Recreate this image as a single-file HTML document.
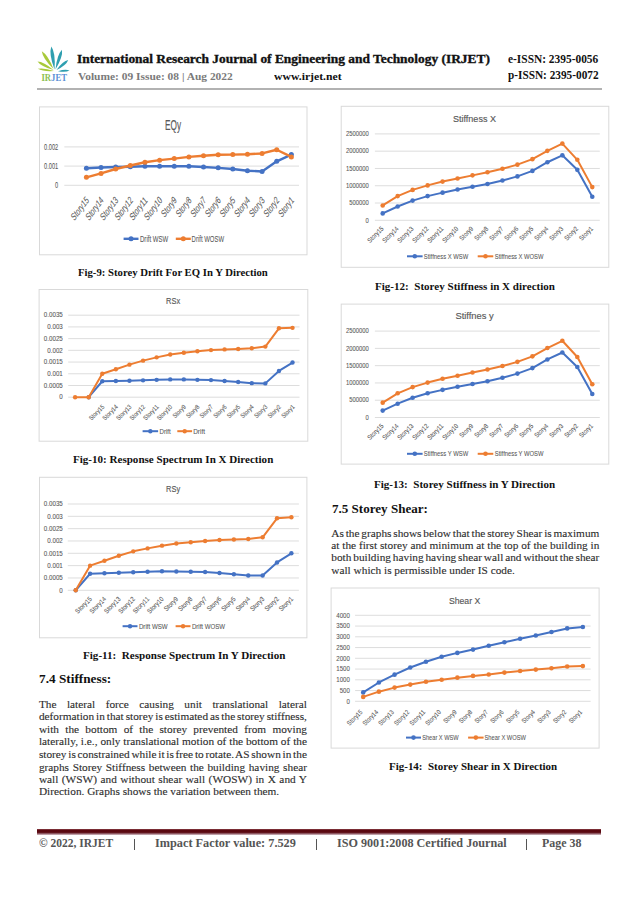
<!DOCTYPE html>
<html><head><meta charset="utf-8"><style>
html,body{margin:0;padding:0;background:#fff;}
body{width:638px;height:902px;position:relative;overflow:hidden;}
.t{position:absolute;white-space:pre;font-family:"Liberation Serif",serif;transform-origin:0 0;}
.b{-webkit-text-stroke:0px currentColor;}
.r{-webkit-text-stroke:0.12px currentColor;}
.j{text-align:justify;text-align-last:justify;white-space:normal;}
svg text{font-family:"Liberation Sans",sans-serif;stroke:#595959;stroke-width:0.08px;}
svg text.tt{stroke-width:0.15px;}
svg text.lg{font-family:"Liberation Serif",serif;stroke:none;}
</style></head><body>
<div style="position:absolute;left:37px;top:88px;width:565px;height:2px;background:#b2b2b2"></div>
<div style="position:absolute;left:37px;top:829px;width:564px;height:5.5px;background:linear-gradient(#8a4048,#5a0810 25%,#5a0810 55%,#9a6a74 80%,#d8c4ca)"></div>
<svg style="position:absolute;left:0;top:0" width="638" height="902" viewBox="0 0 638 902">
<rect x="39.50" y="106.90" width="267.50" height="147.90" fill="#fff" stroke="#D9D9D9" stroke-width="1"/><text x="165.00" y="129.60" font-size="13.95" fill="#595959" text-anchor="start" textLength="16.00" lengthAdjust="spacingAndGlyphs" class="tt">EQy</text><line x1="64.3" y1="185.30" x2="299" y2="185.30" stroke="#D9D9D9" stroke-width="0.9"/><text x="58.20" y="188.10" font-size="8.14" fill="#595959" text-anchor="end" textLength="3.14" lengthAdjust="spacingAndGlyphs" >0</text><line x1="64.3" y1="166.10" x2="299" y2="166.10" stroke="#D9D9D9" stroke-width="0.9"/><text x="58.20" y="168.90" font-size="8.14" fill="#595959" text-anchor="end" textLength="14.14" lengthAdjust="spacingAndGlyphs" >0.001</text><line x1="64.3" y1="146.90" x2="299" y2="146.90" stroke="#D9D9D9" stroke-width="0.9"/><text x="58.20" y="149.70" font-size="8.14" fill="#595959" text-anchor="end" textLength="14.14" lengthAdjust="spacingAndGlyphs" >0.002</text><polyline points="86.40,168.31 101.04,167.44 115.68,167.06 130.32,166.68 144.96,166.29 159.60,166.29 174.24,166.29 188.88,166.29 203.52,167.06 218.16,167.83 232.80,168.98 247.44,170.71 262.08,171.48 276.72,161.30 291.36,154.58" fill="none" stroke="#4472C4" stroke-width="2.4" stroke-linejoin="round" stroke-linecap="round"/><circle cx="86.40" cy="168.31" r="2.5" fill="#4472C4"/><circle cx="101.04" cy="167.44" r="2.5" fill="#4472C4"/><circle cx="115.68" cy="167.06" r="2.5" fill="#4472C4"/><circle cx="130.32" cy="166.68" r="2.5" fill="#4472C4"/><circle cx="144.96" cy="166.29" r="2.5" fill="#4472C4"/><circle cx="159.60" cy="166.29" r="2.5" fill="#4472C4"/><circle cx="174.24" cy="166.29" r="2.5" fill="#4472C4"/><circle cx="188.88" cy="166.29" r="2.5" fill="#4472C4"/><circle cx="203.52" cy="167.06" r="2.5" fill="#4472C4"/><circle cx="218.16" cy="167.83" r="2.5" fill="#4472C4"/><circle cx="232.80" cy="168.98" r="2.5" fill="#4472C4"/><circle cx="247.44" cy="170.71" r="2.5" fill="#4472C4"/><circle cx="262.08" cy="171.48" r="2.5" fill="#4472C4"/><circle cx="276.72" cy="161.30" r="2.5" fill="#4472C4"/><circle cx="291.36" cy="154.58" r="2.5" fill="#4472C4"/><polyline points="86.40,177.29 101.04,173.40 115.68,168.98 130.32,165.52 144.96,162.26 159.60,160.15 174.24,158.61 188.88,156.88 203.52,155.73 218.16,154.77 232.80,154.58 247.44,154.20 262.08,153.43 276.72,149.78 291.36,156.88" fill="none" stroke="#ED7D31" stroke-width="2.4" stroke-linejoin="round" stroke-linecap="round"/><circle cx="86.40" cy="177.29" r="2.5" fill="#ED7D31"/><circle cx="101.04" cy="173.40" r="2.5" fill="#ED7D31"/><circle cx="115.68" cy="168.98" r="2.5" fill="#ED7D31"/><circle cx="130.32" cy="165.52" r="2.5" fill="#ED7D31"/><circle cx="144.96" cy="162.26" r="2.5" fill="#ED7D31"/><circle cx="159.60" cy="160.15" r="2.5" fill="#ED7D31"/><circle cx="174.24" cy="158.61" r="2.5" fill="#ED7D31"/><circle cx="188.88" cy="156.88" r="2.5" fill="#ED7D31"/><circle cx="203.52" cy="155.73" r="2.5" fill="#ED7D31"/><circle cx="218.16" cy="154.77" r="2.5" fill="#ED7D31"/><circle cx="232.80" cy="154.58" r="2.5" fill="#ED7D31"/><circle cx="247.44" cy="154.20" r="2.5" fill="#ED7D31"/><circle cx="262.08" cy="153.43" r="2.5" fill="#ED7D31"/><circle cx="276.72" cy="149.78" r="2.5" fill="#ED7D31"/><circle cx="291.36" cy="156.88" r="2.5" fill="#ED7D31"/><g transform="translate(89.40,201.10) scale(1,1.33) rotate(-45)"><text x="0" y="0" font-size="8.14" fill="#595959" text-anchor="end" textLength="21.33" lengthAdjust="spacingAndGlyphs">Story15</text></g><g transform="translate(104.04,201.10) scale(1,1.33) rotate(-45)"><text x="0" y="0" font-size="8.14" fill="#595959" text-anchor="end" textLength="21.33" lengthAdjust="spacingAndGlyphs">Story14</text></g><g transform="translate(118.68,201.10) scale(1,1.33) rotate(-45)"><text x="0" y="0" font-size="8.14" fill="#595959" text-anchor="end" textLength="21.33" lengthAdjust="spacingAndGlyphs">Story13</text></g><g transform="translate(133.32,201.10) scale(1,1.33) rotate(-45)"><text x="0" y="0" font-size="8.14" fill="#595959" text-anchor="end" textLength="21.33" lengthAdjust="spacingAndGlyphs">Story12</text></g><g transform="translate(147.96,201.10) scale(1,1.33) rotate(-45)"><text x="0" y="0" font-size="8.14" fill="#595959" text-anchor="end" textLength="21.33" lengthAdjust="spacingAndGlyphs">Story11</text></g><g transform="translate(162.60,201.10) scale(1,1.33) rotate(-45)"><text x="0" y="0" font-size="8.14" fill="#595959" text-anchor="end" textLength="21.33" lengthAdjust="spacingAndGlyphs">Story10</text></g><g transform="translate(177.24,201.10) scale(1,1.33) rotate(-45)"><text x="0" y="0" font-size="8.14" fill="#595959" text-anchor="end" textLength="17.88" lengthAdjust="spacingAndGlyphs">Story9</text></g><g transform="translate(191.88,201.10) scale(1,1.33) rotate(-45)"><text x="0" y="0" font-size="8.14" fill="#595959" text-anchor="end" textLength="17.88" lengthAdjust="spacingAndGlyphs">Story8</text></g><g transform="translate(206.52,201.10) scale(1,1.33) rotate(-45)"><text x="0" y="0" font-size="8.14" fill="#595959" text-anchor="end" textLength="17.88" lengthAdjust="spacingAndGlyphs">Story7</text></g><g transform="translate(221.16,201.10) scale(1,1.33) rotate(-45)"><text x="0" y="0" font-size="8.14" fill="#595959" text-anchor="end" textLength="17.88" lengthAdjust="spacingAndGlyphs">Story6</text></g><g transform="translate(235.80,201.10) scale(1,1.33) rotate(-45)"><text x="0" y="0" font-size="8.14" fill="#595959" text-anchor="end" textLength="17.88" lengthAdjust="spacingAndGlyphs">Story5</text></g><g transform="translate(250.44,201.10) scale(1,1.33) rotate(-45)"><text x="0" y="0" font-size="8.14" fill="#595959" text-anchor="end" textLength="17.88" lengthAdjust="spacingAndGlyphs">Story4</text></g><g transform="translate(265.08,201.10) scale(1,1.33) rotate(-45)"><text x="0" y="0" font-size="8.14" fill="#595959" text-anchor="end" textLength="17.88" lengthAdjust="spacingAndGlyphs">Story3</text></g><g transform="translate(279.72,201.10) scale(1,1.33) rotate(-45)"><text x="0" y="0" font-size="8.14" fill="#595959" text-anchor="end" textLength="17.88" lengthAdjust="spacingAndGlyphs">Story2</text></g><g transform="translate(294.36,201.10) scale(1,1.33) rotate(-45)"><text x="0" y="0" font-size="8.14" fill="#595959" text-anchor="end" textLength="17.88" lengthAdjust="spacingAndGlyphs">Story1</text></g><line x1="123.6" y1="238.8" x2="138.5" y2="238.8" stroke="#4472C4" stroke-width="2.4"/><circle cx="131.05" cy="238.8" r="2.5" fill="#4472C4"/><text x="140.00" y="242.10" font-size="9.59" fill="#595959" text-anchor="start" textLength="28.20" lengthAdjust="spacingAndGlyphs" >Drift WSW</text><line x1="175.8" y1="238.8" x2="190.8" y2="238.8" stroke="#ED7D31" stroke-width="2.4"/><circle cx="183.30" cy="238.8" r="2.5" fill="#ED7D31"/><text x="191.60" y="242.10" font-size="9.59" fill="#595959" text-anchor="start" textLength="32.50" lengthAdjust="spacingAndGlyphs" >Drift WOSW</text><rect x="39.10" y="289.50" width="268.70" height="151.70" fill="#fff" stroke="#D9D9D9" stroke-width="1"/><text x="166.10" y="304.00" font-size="9.59" fill="#595959" text-anchor="start" textLength="14.10" lengthAdjust="spacingAndGlyphs" class="tt">RSx</text><line x1="68.2" y1="397.20" x2="299.5" y2="397.20" stroke="#D9D9D9" stroke-width="0.9"/><text x="62.80" y="399.45" font-size="6.54" fill="#595959" text-anchor="end" textLength="3.45" lengthAdjust="spacingAndGlyphs" >0</text><line x1="68.2" y1="385.49" x2="299.5" y2="385.49" stroke="#D9D9D9" stroke-width="0.9"/><text x="62.80" y="387.74" font-size="6.54" fill="#595959" text-anchor="end" textLength="18.95" lengthAdjust="spacingAndGlyphs" >0.0005</text><line x1="68.2" y1="373.77" x2="299.5" y2="373.77" stroke="#D9D9D9" stroke-width="0.9"/><text x="62.80" y="376.02" font-size="6.54" fill="#595959" text-anchor="end" textLength="15.50" lengthAdjust="spacingAndGlyphs" >0.001</text><line x1="68.2" y1="362.06" x2="299.5" y2="362.06" stroke="#D9D9D9" stroke-width="0.9"/><text x="62.80" y="364.31" font-size="6.54" fill="#595959" text-anchor="end" textLength="18.95" lengthAdjust="spacingAndGlyphs" >0.0015</text><line x1="68.2" y1="350.34" x2="299.5" y2="350.34" stroke="#D9D9D9" stroke-width="0.9"/><text x="62.80" y="352.59" font-size="6.54" fill="#595959" text-anchor="end" textLength="15.50" lengthAdjust="spacingAndGlyphs" >0.002</text><line x1="68.2" y1="338.63" x2="299.5" y2="338.63" stroke="#D9D9D9" stroke-width="0.9"/><text x="62.80" y="340.88" font-size="6.54" fill="#595959" text-anchor="end" textLength="18.95" lengthAdjust="spacingAndGlyphs" >0.0025</text><line x1="68.2" y1="326.91" x2="299.5" y2="326.91" stroke="#D9D9D9" stroke-width="0.9"/><text x="62.80" y="329.16" font-size="6.54" fill="#595959" text-anchor="end" textLength="15.50" lengthAdjust="spacingAndGlyphs" >0.003</text><line x1="68.2" y1="315.20" x2="299.5" y2="315.20" stroke="#D9D9D9" stroke-width="0.9"/><text x="62.80" y="317.45" font-size="6.54" fill="#595959" text-anchor="end" textLength="18.95" lengthAdjust="spacingAndGlyphs" >0.0035</text><polyline points="88.69,397.20 102.28,381.27 115.87,381.03 129.46,380.80 143.05,380.33 156.64,379.86 170.23,379.39 183.82,379.39 197.41,379.86 211.00,380.10 224.59,381.03 238.18,381.97 251.77,383.14 265.36,383.38 278.95,370.96 292.54,362.53" fill="none" stroke="#4472C4" stroke-width="2.0" stroke-linejoin="round" stroke-linecap="round"/><circle cx="88.69" cy="397.20" r="2.2" fill="#4472C4"/><circle cx="102.28" cy="381.27" r="2.2" fill="#4472C4"/><circle cx="115.87" cy="381.03" r="2.2" fill="#4472C4"/><circle cx="129.46" cy="380.80" r="2.2" fill="#4472C4"/><circle cx="143.05" cy="380.33" r="2.2" fill="#4472C4"/><circle cx="156.64" cy="379.86" r="2.2" fill="#4472C4"/><circle cx="170.23" cy="379.39" r="2.2" fill="#4472C4"/><circle cx="183.82" cy="379.39" r="2.2" fill="#4472C4"/><circle cx="197.41" cy="379.86" r="2.2" fill="#4472C4"/><circle cx="211.00" cy="380.10" r="2.2" fill="#4472C4"/><circle cx="224.59" cy="381.03" r="2.2" fill="#4472C4"/><circle cx="238.18" cy="381.97" r="2.2" fill="#4472C4"/><circle cx="251.77" cy="383.14" r="2.2" fill="#4472C4"/><circle cx="265.36" cy="383.38" r="2.2" fill="#4472C4"/><circle cx="278.95" cy="370.96" r="2.2" fill="#4472C4"/><circle cx="292.54" cy="362.53" r="2.2" fill="#4472C4"/><polyline points="75.10,397.20 88.69,397.20 102.28,373.77 115.87,369.32 129.46,364.63 143.05,360.65 156.64,357.37 170.23,354.56 183.82,352.69 197.41,351.28 211.00,350.11 224.59,349.41 238.18,348.94 251.77,348.23 265.36,346.59 278.95,328.32 292.54,327.85" fill="none" stroke="#ED7D31" stroke-width="2.0" stroke-linejoin="round" stroke-linecap="round"/><circle cx="75.10" cy="397.20" r="2.2" fill="#ED7D31"/><circle cx="88.69" cy="397.20" r="2.2" fill="#ED7D31"/><circle cx="102.28" cy="373.77" r="2.2" fill="#ED7D31"/><circle cx="115.87" cy="369.32" r="2.2" fill="#ED7D31"/><circle cx="129.46" cy="364.63" r="2.2" fill="#ED7D31"/><circle cx="143.05" cy="360.65" r="2.2" fill="#ED7D31"/><circle cx="156.64" cy="357.37" r="2.2" fill="#ED7D31"/><circle cx="170.23" cy="354.56" r="2.2" fill="#ED7D31"/><circle cx="183.82" cy="352.69" r="2.2" fill="#ED7D31"/><circle cx="197.41" cy="351.28" r="2.2" fill="#ED7D31"/><circle cx="211.00" cy="350.11" r="2.2" fill="#ED7D31"/><circle cx="224.59" cy="349.41" r="2.2" fill="#ED7D31"/><circle cx="238.18" cy="348.94" r="2.2" fill="#ED7D31"/><circle cx="251.77" cy="348.23" r="2.2" fill="#ED7D31"/><circle cx="265.36" cy="346.59" r="2.2" fill="#ED7D31"/><circle cx="278.95" cy="328.32" r="2.2" fill="#ED7D31"/><circle cx="292.54" cy="327.85" r="2.2" fill="#ED7D31"/><g transform="translate(104.78,407.40) scale(1,1.0) rotate(-45)"><text x="0" y="0" font-size="6.54" fill="#595959" text-anchor="end" textLength="18.82" lengthAdjust="spacingAndGlyphs">Story15</text></g><g transform="translate(118.37,407.40) scale(1,1.0) rotate(-45)"><text x="0" y="0" font-size="6.54" fill="#595959" text-anchor="end" textLength="18.82" lengthAdjust="spacingAndGlyphs">Story14</text></g><g transform="translate(131.96,407.40) scale(1,1.0) rotate(-45)"><text x="0" y="0" font-size="6.54" fill="#595959" text-anchor="end" textLength="18.82" lengthAdjust="spacingAndGlyphs">Story13</text></g><g transform="translate(145.55,407.40) scale(1,1.0) rotate(-45)"><text x="0" y="0" font-size="6.54" fill="#595959" text-anchor="end" textLength="18.82" lengthAdjust="spacingAndGlyphs">Story12</text></g><g transform="translate(159.14,407.40) scale(1,1.0) rotate(-45)"><text x="0" y="0" font-size="6.54" fill="#595959" text-anchor="end" textLength="18.82" lengthAdjust="spacingAndGlyphs">Story11</text></g><g transform="translate(172.73,407.40) scale(1,1.0) rotate(-45)"><text x="0" y="0" font-size="6.54" fill="#595959" text-anchor="end" textLength="18.82" lengthAdjust="spacingAndGlyphs">Story10</text></g><g transform="translate(186.32,407.40) scale(1,1.0) rotate(-45)"><text x="0" y="0" font-size="6.54" fill="#595959" text-anchor="end" textLength="15.78" lengthAdjust="spacingAndGlyphs">Story9</text></g><g transform="translate(199.91,407.40) scale(1,1.0) rotate(-45)"><text x="0" y="0" font-size="6.54" fill="#595959" text-anchor="end" textLength="15.78" lengthAdjust="spacingAndGlyphs">Story8</text></g><g transform="translate(213.50,407.40) scale(1,1.0) rotate(-45)"><text x="0" y="0" font-size="6.54" fill="#595959" text-anchor="end" textLength="15.78" lengthAdjust="spacingAndGlyphs">Story7</text></g><g transform="translate(227.09,407.40) scale(1,1.0) rotate(-45)"><text x="0" y="0" font-size="6.54" fill="#595959" text-anchor="end" textLength="15.78" lengthAdjust="spacingAndGlyphs">Story6</text></g><g transform="translate(240.68,407.40) scale(1,1.0) rotate(-45)"><text x="0" y="0" font-size="6.54" fill="#595959" text-anchor="end" textLength="15.78" lengthAdjust="spacingAndGlyphs">Story5</text></g><g transform="translate(254.27,407.40) scale(1,1.0) rotate(-45)"><text x="0" y="0" font-size="6.54" fill="#595959" text-anchor="end" textLength="15.78" lengthAdjust="spacingAndGlyphs">Story4</text></g><g transform="translate(267.86,407.40) scale(1,1.0) rotate(-45)"><text x="0" y="0" font-size="6.54" fill="#595959" text-anchor="end" textLength="15.78" lengthAdjust="spacingAndGlyphs">Story3</text></g><g transform="translate(281.45,407.40) scale(1,1.0) rotate(-45)"><text x="0" y="0" font-size="6.54" fill="#595959" text-anchor="end" textLength="15.78" lengthAdjust="spacingAndGlyphs">Story2</text></g><g transform="translate(295.04,407.40) scale(1,1.0) rotate(-45)"><text x="0" y="0" font-size="6.54" fill="#595959" text-anchor="end" textLength="15.78" lengthAdjust="spacingAndGlyphs">Story1</text></g><line x1="142.6" y1="431.2" x2="158.1" y2="431.2" stroke="#4472C4" stroke-width="2.0"/><circle cx="150.35" cy="431.2" r="2.2" fill="#4472C4"/><text x="159.50" y="433.70" font-size="7.27" fill="#595959" text-anchor="start" textLength="11.20" lengthAdjust="spacingAndGlyphs" >Drift</text><line x1="177.3" y1="431.2" x2="192.1" y2="431.2" stroke="#ED7D31" stroke-width="2.0"/><circle cx="184.70" cy="431.2" r="2.2" fill="#ED7D31"/><text x="193.20" y="433.70" font-size="7.27" fill="#595959" text-anchor="start" textLength="11.80" lengthAdjust="spacingAndGlyphs" >Drift</text><rect x="39.50" y="477.30" width="267.40" height="160.50" fill="#fff" stroke="#D9D9D9" stroke-width="1"/><text x="166.10" y="492.10" font-size="9.16" fill="#595959" text-anchor="start" textLength="14.10" lengthAdjust="spacingAndGlyphs" class="tt">RSy</text><line x1="67.8" y1="590.30" x2="298.9" y2="590.30" stroke="#D9D9D9" stroke-width="0.9"/><text x="62.80" y="592.55" font-size="6.54" fill="#595959" text-anchor="end" textLength="3.45" lengthAdjust="spacingAndGlyphs" >0</text><line x1="67.8" y1="577.97" x2="298.9" y2="577.97" stroke="#D9D9D9" stroke-width="0.9"/><text x="62.80" y="580.22" font-size="6.54" fill="#595959" text-anchor="end" textLength="18.95" lengthAdjust="spacingAndGlyphs" >0.0005</text><line x1="67.8" y1="565.64" x2="298.9" y2="565.64" stroke="#D9D9D9" stroke-width="0.9"/><text x="62.80" y="567.89" font-size="6.54" fill="#595959" text-anchor="end" textLength="15.50" lengthAdjust="spacingAndGlyphs" >0.001</text><line x1="67.8" y1="553.31" x2="298.9" y2="553.31" stroke="#D9D9D9" stroke-width="0.9"/><text x="62.80" y="555.56" font-size="6.54" fill="#595959" text-anchor="end" textLength="18.95" lengthAdjust="spacingAndGlyphs" >0.0015</text><line x1="67.8" y1="540.99" x2="298.9" y2="540.99" stroke="#D9D9D9" stroke-width="0.9"/><text x="62.80" y="543.24" font-size="6.54" fill="#595959" text-anchor="end" textLength="15.50" lengthAdjust="spacingAndGlyphs" >0.002</text><line x1="67.8" y1="528.66" x2="298.9" y2="528.66" stroke="#D9D9D9" stroke-width="0.9"/><text x="62.80" y="530.91" font-size="6.54" fill="#595959" text-anchor="end" textLength="18.95" lengthAdjust="spacingAndGlyphs" >0.0025</text><line x1="67.8" y1="516.33" x2="298.9" y2="516.33" stroke="#D9D9D9" stroke-width="0.9"/><text x="62.80" y="518.58" font-size="6.54" fill="#595959" text-anchor="end" textLength="15.50" lengthAdjust="spacingAndGlyphs" >0.003</text><line x1="67.8" y1="504.00" x2="298.9" y2="504.00" stroke="#D9D9D9" stroke-width="0.9"/><text x="62.80" y="506.25" font-size="6.54" fill="#595959" text-anchor="end" textLength="18.95" lengthAdjust="spacingAndGlyphs" >0.0035</text><polyline points="75.70,590.30 90.08,573.78 104.46,573.29 118.84,572.79 133.22,572.30 147.60,571.81 161.98,571.31 176.36,571.56 190.74,571.81 205.12,572.05 219.50,573.04 233.88,574.27 248.26,575.51 262.64,575.51 277.02,562.44 291.40,553.31" fill="none" stroke="#4472C4" stroke-width="2.0" stroke-linejoin="round" stroke-linecap="round"/><circle cx="75.70" cy="590.30" r="2.2" fill="#4472C4"/><circle cx="90.08" cy="573.78" r="2.2" fill="#4472C4"/><circle cx="104.46" cy="573.29" r="2.2" fill="#4472C4"/><circle cx="118.84" cy="572.79" r="2.2" fill="#4472C4"/><circle cx="133.22" cy="572.30" r="2.2" fill="#4472C4"/><circle cx="147.60" cy="571.81" r="2.2" fill="#4472C4"/><circle cx="161.98" cy="571.31" r="2.2" fill="#4472C4"/><circle cx="176.36" cy="571.56" r="2.2" fill="#4472C4"/><circle cx="190.74" cy="571.81" r="2.2" fill="#4472C4"/><circle cx="205.12" cy="572.05" r="2.2" fill="#4472C4"/><circle cx="219.50" cy="573.04" r="2.2" fill="#4472C4"/><circle cx="233.88" cy="574.27" r="2.2" fill="#4472C4"/><circle cx="248.26" cy="575.51" r="2.2" fill="#4472C4"/><circle cx="262.64" cy="575.51" r="2.2" fill="#4472C4"/><circle cx="277.02" cy="562.44" r="2.2" fill="#4472C4"/><circle cx="291.40" cy="553.31" r="2.2" fill="#4472C4"/><polyline points="75.70,590.30 90.08,565.64 104.46,560.71 118.84,555.78 133.22,551.34 147.60,548.38 161.98,545.67 176.36,543.45 190.74,542.22 205.12,540.99 219.50,540.00 233.88,539.51 248.26,539.01 262.64,537.29 277.02,518.30 291.40,517.31" fill="none" stroke="#ED7D31" stroke-width="2.0" stroke-linejoin="round" stroke-linecap="round"/><circle cx="75.70" cy="590.30" r="2.2" fill="#ED7D31"/><circle cx="90.08" cy="565.64" r="2.2" fill="#ED7D31"/><circle cx="104.46" cy="560.71" r="2.2" fill="#ED7D31"/><circle cx="118.84" cy="555.78" r="2.2" fill="#ED7D31"/><circle cx="133.22" cy="551.34" r="2.2" fill="#ED7D31"/><circle cx="147.60" cy="548.38" r="2.2" fill="#ED7D31"/><circle cx="161.98" cy="545.67" r="2.2" fill="#ED7D31"/><circle cx="176.36" cy="543.45" r="2.2" fill="#ED7D31"/><circle cx="190.74" cy="542.22" r="2.2" fill="#ED7D31"/><circle cx="205.12" cy="540.99" r="2.2" fill="#ED7D31"/><circle cx="219.50" cy="540.00" r="2.2" fill="#ED7D31"/><circle cx="233.88" cy="539.51" r="2.2" fill="#ED7D31"/><circle cx="248.26" cy="539.01" r="2.2" fill="#ED7D31"/><circle cx="262.64" cy="537.29" r="2.2" fill="#ED7D31"/><circle cx="277.02" cy="518.30" r="2.2" fill="#ED7D31"/><circle cx="291.40" cy="517.31" r="2.2" fill="#ED7D31"/><g transform="translate(92.28,599.50) scale(1,1.0) rotate(-45)"><text x="0" y="0" font-size="6.69" fill="#595959" text-anchor="end" textLength="20.39" lengthAdjust="spacingAndGlyphs">Story15</text></g><g transform="translate(106.66,599.50) scale(1,1.0) rotate(-45)"><text x="0" y="0" font-size="6.69" fill="#595959" text-anchor="end" textLength="20.39" lengthAdjust="spacingAndGlyphs">Story14</text></g><g transform="translate(121.04,599.50) scale(1,1.0) rotate(-45)"><text x="0" y="0" font-size="6.69" fill="#595959" text-anchor="end" textLength="20.39" lengthAdjust="spacingAndGlyphs">Story13</text></g><g transform="translate(135.42,599.50) scale(1,1.0) rotate(-45)"><text x="0" y="0" font-size="6.69" fill="#595959" text-anchor="end" textLength="20.39" lengthAdjust="spacingAndGlyphs">Story12</text></g><g transform="translate(149.80,599.50) scale(1,1.0) rotate(-45)"><text x="0" y="0" font-size="6.69" fill="#595959" text-anchor="end" textLength="20.39" lengthAdjust="spacingAndGlyphs">Story11</text></g><g transform="translate(164.18,599.50) scale(1,1.0) rotate(-45)"><text x="0" y="0" font-size="6.69" fill="#595959" text-anchor="end" textLength="20.39" lengthAdjust="spacingAndGlyphs">Story10</text></g><g transform="translate(178.56,599.50) scale(1,1.0) rotate(-45)"><text x="0" y="0" font-size="6.69" fill="#595959" text-anchor="end" textLength="17.09" lengthAdjust="spacingAndGlyphs">Story9</text></g><g transform="translate(192.94,599.50) scale(1,1.0) rotate(-45)"><text x="0" y="0" font-size="6.69" fill="#595959" text-anchor="end" textLength="17.09" lengthAdjust="spacingAndGlyphs">Story8</text></g><g transform="translate(207.32,599.50) scale(1,1.0) rotate(-45)"><text x="0" y="0" font-size="6.69" fill="#595959" text-anchor="end" textLength="17.09" lengthAdjust="spacingAndGlyphs">Story7</text></g><g transform="translate(221.70,599.50) scale(1,1.0) rotate(-45)"><text x="0" y="0" font-size="6.69" fill="#595959" text-anchor="end" textLength="17.09" lengthAdjust="spacingAndGlyphs">Story6</text></g><g transform="translate(236.08,599.50) scale(1,1.0) rotate(-45)"><text x="0" y="0" font-size="6.69" fill="#595959" text-anchor="end" textLength="17.09" lengthAdjust="spacingAndGlyphs">Story5</text></g><g transform="translate(250.46,599.50) scale(1,1.0) rotate(-45)"><text x="0" y="0" font-size="6.69" fill="#595959" text-anchor="end" textLength="17.09" lengthAdjust="spacingAndGlyphs">Story4</text></g><g transform="translate(264.84,599.50) scale(1,1.0) rotate(-45)"><text x="0" y="0" font-size="6.69" fill="#595959" text-anchor="end" textLength="17.09" lengthAdjust="spacingAndGlyphs">Story3</text></g><g transform="translate(279.22,599.50) scale(1,1.0) rotate(-45)"><text x="0" y="0" font-size="6.69" fill="#595959" text-anchor="end" textLength="17.09" lengthAdjust="spacingAndGlyphs">Story2</text></g><g transform="translate(293.60,599.50) scale(1,1.0) rotate(-45)"><text x="0" y="0" font-size="6.69" fill="#595959" text-anchor="end" textLength="17.09" lengthAdjust="spacingAndGlyphs">Story1</text></g><line x1="122.6" y1="626.2" x2="137.5" y2="626.2" stroke="#4472C4" stroke-width="2.0"/><circle cx="130.05" cy="626.2" r="2.2" fill="#4472C4"/><text x="138.90" y="628.70" font-size="7.27" fill="#595959" text-anchor="start" textLength="28.80" lengthAdjust="spacingAndGlyphs" >Drift WSW</text><line x1="175.6" y1="626.2" x2="190.5" y2="626.2" stroke="#ED7D31" stroke-width="2.0"/><circle cx="183.05" cy="626.2" r="2.2" fill="#ED7D31"/><text x="191.90" y="628.70" font-size="7.27" fill="#595959" text-anchor="start" textLength="33.20" lengthAdjust="spacingAndGlyphs" >Drift WOSW</text><rect x="341.20" y="106.30" width="267.60" height="161.00" fill="#fff" stroke="#D9D9D9" stroke-width="1"/><text x="452.90" y="122.00" font-size="9.16" fill="#595959" text-anchor="start" textLength="43.10" lengthAdjust="spacingAndGlyphs" class="tt">Stiffness X</text><line x1="374.9" y1="220.30" x2="599.8" y2="220.30" stroke="#D9D9D9" stroke-width="0.9"/><text x="368.80" y="222.55" font-size="6.54" fill="#595959" text-anchor="end" textLength="3.27" lengthAdjust="spacingAndGlyphs" >0</text><line x1="374.9" y1="203.02" x2="599.8" y2="203.02" stroke="#D9D9D9" stroke-width="0.9"/><text x="368.80" y="205.27" font-size="6.54" fill="#595959" text-anchor="end" textLength="19.62" lengthAdjust="spacingAndGlyphs" >500000</text><line x1="374.9" y1="185.74" x2="599.8" y2="185.74" stroke="#D9D9D9" stroke-width="0.9"/><text x="368.80" y="187.99" font-size="6.54" fill="#595959" text-anchor="end" textLength="22.89" lengthAdjust="spacingAndGlyphs" >1000000</text><line x1="374.9" y1="168.46" x2="599.8" y2="168.46" stroke="#D9D9D9" stroke-width="0.9"/><text x="368.80" y="170.71" font-size="6.54" fill="#595959" text-anchor="end" textLength="22.89" lengthAdjust="spacingAndGlyphs" >1500000</text><line x1="374.9" y1="151.18" x2="599.8" y2="151.18" stroke="#D9D9D9" stroke-width="0.9"/><text x="368.80" y="153.43" font-size="6.54" fill="#595959" text-anchor="end" textLength="22.89" lengthAdjust="spacingAndGlyphs" >2000000</text><line x1="374.9" y1="133.90" x2="599.8" y2="133.90" stroke="#D9D9D9" stroke-width="0.9"/><text x="368.80" y="136.15" font-size="6.54" fill="#595959" text-anchor="end" textLength="22.89" lengthAdjust="spacingAndGlyphs" >2500000</text><polyline points="382.70,213.39 397.67,206.48 412.64,200.60 427.61,196.11 442.58,192.65 457.55,189.54 472.52,186.78 487.49,184.01 502.46,180.56 517.43,176.41 532.40,170.88 547.37,162.24 562.34,155.33 577.31,169.84 592.28,196.80" fill="none" stroke="#4472C4" stroke-width="2.0" stroke-linejoin="round" stroke-linecap="round"/><circle cx="382.70" cy="213.39" r="2.3" fill="#4472C4"/><circle cx="397.67" cy="206.48" r="2.3" fill="#4472C4"/><circle cx="412.64" cy="200.60" r="2.3" fill="#4472C4"/><circle cx="427.61" cy="196.11" r="2.3" fill="#4472C4"/><circle cx="442.58" cy="192.65" r="2.3" fill="#4472C4"/><circle cx="457.55" cy="189.54" r="2.3" fill="#4472C4"/><circle cx="472.52" cy="186.78" r="2.3" fill="#4472C4"/><circle cx="487.49" cy="184.01" r="2.3" fill="#4472C4"/><circle cx="502.46" cy="180.56" r="2.3" fill="#4472C4"/><circle cx="517.43" cy="176.41" r="2.3" fill="#4472C4"/><circle cx="532.40" cy="170.88" r="2.3" fill="#4472C4"/><circle cx="547.37" cy="162.24" r="2.3" fill="#4472C4"/><circle cx="562.34" cy="155.33" r="2.3" fill="#4472C4"/><circle cx="577.31" cy="169.84" r="2.3" fill="#4472C4"/><circle cx="592.28" cy="196.80" r="2.3" fill="#4472C4"/><polyline points="382.70,205.44 397.67,196.11 412.64,189.89 427.61,185.39 442.58,181.59 457.55,178.48 472.52,175.37 487.49,172.26 502.46,168.81 517.43,164.66 532.40,159.13 547.37,150.83 562.34,143.58 577.31,159.82 592.28,187.12" fill="none" stroke="#ED7D31" stroke-width="2.0" stroke-linejoin="round" stroke-linecap="round"/><circle cx="382.70" cy="205.44" r="2.3" fill="#ED7D31"/><circle cx="397.67" cy="196.11" r="2.3" fill="#ED7D31"/><circle cx="412.64" cy="189.89" r="2.3" fill="#ED7D31"/><circle cx="427.61" cy="185.39" r="2.3" fill="#ED7D31"/><circle cx="442.58" cy="181.59" r="2.3" fill="#ED7D31"/><circle cx="457.55" cy="178.48" r="2.3" fill="#ED7D31"/><circle cx="472.52" cy="175.37" r="2.3" fill="#ED7D31"/><circle cx="487.49" cy="172.26" r="2.3" fill="#ED7D31"/><circle cx="502.46" cy="168.81" r="2.3" fill="#ED7D31"/><circle cx="517.43" cy="164.66" r="2.3" fill="#ED7D31"/><circle cx="532.40" cy="159.13" r="2.3" fill="#ED7D31"/><circle cx="547.37" cy="150.83" r="2.3" fill="#ED7D31"/><circle cx="562.34" cy="143.58" r="2.3" fill="#ED7D31"/><circle cx="577.31" cy="159.82" r="2.3" fill="#ED7D31"/><circle cx="592.28" cy="187.12" r="2.3" fill="#ED7D31"/><g transform="translate(384.00,229.20) scale(1,1.0) rotate(-45)"><text x="0" y="0" font-size="6.69" fill="#595959" text-anchor="end" textLength="19.76" lengthAdjust="spacingAndGlyphs">Story15</text></g><g transform="translate(398.97,229.20) scale(1,1.0) rotate(-45)"><text x="0" y="0" font-size="6.69" fill="#595959" text-anchor="end" textLength="19.76" lengthAdjust="spacingAndGlyphs">Story14</text></g><g transform="translate(413.94,229.20) scale(1,1.0) rotate(-45)"><text x="0" y="0" font-size="6.69" fill="#595959" text-anchor="end" textLength="19.76" lengthAdjust="spacingAndGlyphs">Story13</text></g><g transform="translate(428.91,229.20) scale(1,1.0) rotate(-45)"><text x="0" y="0" font-size="6.69" fill="#595959" text-anchor="end" textLength="19.76" lengthAdjust="spacingAndGlyphs">Story12</text></g><g transform="translate(443.88,229.20) scale(1,1.0) rotate(-45)"><text x="0" y="0" font-size="6.69" fill="#595959" text-anchor="end" textLength="19.76" lengthAdjust="spacingAndGlyphs">Story11</text></g><g transform="translate(458.85,229.20) scale(1,1.0) rotate(-45)"><text x="0" y="0" font-size="6.69" fill="#595959" text-anchor="end" textLength="19.76" lengthAdjust="spacingAndGlyphs">Story10</text></g><g transform="translate(473.82,229.20) scale(1,1.0) rotate(-45)"><text x="0" y="0" font-size="6.69" fill="#595959" text-anchor="end" textLength="16.57" lengthAdjust="spacingAndGlyphs">Story9</text></g><g transform="translate(488.79,229.20) scale(1,1.0) rotate(-45)"><text x="0" y="0" font-size="6.69" fill="#595959" text-anchor="end" textLength="16.57" lengthAdjust="spacingAndGlyphs">Story8</text></g><g transform="translate(503.76,229.20) scale(1,1.0) rotate(-45)"><text x="0" y="0" font-size="6.69" fill="#595959" text-anchor="end" textLength="16.57" lengthAdjust="spacingAndGlyphs">Story7</text></g><g transform="translate(518.73,229.20) scale(1,1.0) rotate(-45)"><text x="0" y="0" font-size="6.69" fill="#595959" text-anchor="end" textLength="16.57" lengthAdjust="spacingAndGlyphs">Story6</text></g><g transform="translate(533.70,229.20) scale(1,1.0) rotate(-45)"><text x="0" y="0" font-size="6.69" fill="#595959" text-anchor="end" textLength="16.57" lengthAdjust="spacingAndGlyphs">Story5</text></g><g transform="translate(548.67,229.20) scale(1,1.0) rotate(-45)"><text x="0" y="0" font-size="6.69" fill="#595959" text-anchor="end" textLength="16.57" lengthAdjust="spacingAndGlyphs">Story4</text></g><g transform="translate(563.64,229.20) scale(1,1.0) rotate(-45)"><text x="0" y="0" font-size="6.69" fill="#595959" text-anchor="end" textLength="16.57" lengthAdjust="spacingAndGlyphs">Story3</text></g><g transform="translate(578.61,229.20) scale(1,1.0) rotate(-45)"><text x="0" y="0" font-size="6.69" fill="#595959" text-anchor="end" textLength="16.57" lengthAdjust="spacingAndGlyphs">Story2</text></g><g transform="translate(593.58,229.20) scale(1,1.0) rotate(-45)"><text x="0" y="0" font-size="6.69" fill="#595959" text-anchor="end" textLength="16.57" lengthAdjust="spacingAndGlyphs">Story1</text></g><line x1="407" y1="256.3" x2="422.6" y2="256.3" stroke="#4472C4" stroke-width="2.0"/><circle cx="414.80" cy="256.3" r="2.3" fill="#4472C4"/><text x="423.80" y="258.80" font-size="7.27" fill="#595959" text-anchor="start" textLength="44.40" lengthAdjust="spacingAndGlyphs" >Stiffness X WSW</text><line x1="477.7" y1="256.3" x2="493.3" y2="256.3" stroke="#ED7D31" stroke-width="2.0"/><circle cx="485.50" cy="256.3" r="2.3" fill="#ED7D31"/><text x="494.80" y="258.80" font-size="7.27" fill="#595959" text-anchor="start" textLength="48.70" lengthAdjust="spacingAndGlyphs" >Stiffness X WOSW</text><rect x="341.20" y="304.10" width="267.60" height="160.00" fill="#fff" stroke="#D9D9D9" stroke-width="1"/><text x="455.40" y="319.30" font-size="9.30" fill="#595959" text-anchor="start" textLength="38.40" lengthAdjust="spacingAndGlyphs" class="tt">Stiffnes y</text><line x1="374.9" y1="417.50" x2="599.8" y2="417.50" stroke="#D9D9D9" stroke-width="0.9"/><text x="368.80" y="419.75" font-size="6.54" fill="#595959" text-anchor="end" textLength="3.27" lengthAdjust="spacingAndGlyphs" >0</text><line x1="374.9" y1="400.22" x2="599.8" y2="400.22" stroke="#D9D9D9" stroke-width="0.9"/><text x="368.80" y="402.47" font-size="6.54" fill="#595959" text-anchor="end" textLength="19.62" lengthAdjust="spacingAndGlyphs" >500000</text><line x1="374.9" y1="382.94" x2="599.8" y2="382.94" stroke="#D9D9D9" stroke-width="0.9"/><text x="368.80" y="385.19" font-size="6.54" fill="#595959" text-anchor="end" textLength="22.89" lengthAdjust="spacingAndGlyphs" >1000000</text><line x1="374.9" y1="365.66" x2="599.8" y2="365.66" stroke="#D9D9D9" stroke-width="0.9"/><text x="368.80" y="367.91" font-size="6.54" fill="#595959" text-anchor="end" textLength="22.89" lengthAdjust="spacingAndGlyphs" >1500000</text><line x1="374.9" y1="348.38" x2="599.8" y2="348.38" stroke="#D9D9D9" stroke-width="0.9"/><text x="368.80" y="350.63" font-size="6.54" fill="#595959" text-anchor="end" textLength="22.89" lengthAdjust="spacingAndGlyphs" >2000000</text><line x1="374.9" y1="331.10" x2="599.8" y2="331.10" stroke="#D9D9D9" stroke-width="0.9"/><text x="368.80" y="333.35" font-size="6.54" fill="#595959" text-anchor="end" textLength="22.89" lengthAdjust="spacingAndGlyphs" >2500000</text><polyline points="382.70,410.59 397.67,403.68 412.64,397.80 427.61,393.31 442.58,389.85 457.55,386.74 472.52,383.98 487.49,381.21 502.46,377.76 517.43,373.61 532.40,368.08 547.37,359.44 562.34,352.53 577.31,367.04 592.28,394.00" fill="none" stroke="#4472C4" stroke-width="2.0" stroke-linejoin="round" stroke-linecap="round"/><circle cx="382.70" cy="410.59" r="2.3" fill="#4472C4"/><circle cx="397.67" cy="403.68" r="2.3" fill="#4472C4"/><circle cx="412.64" cy="397.80" r="2.3" fill="#4472C4"/><circle cx="427.61" cy="393.31" r="2.3" fill="#4472C4"/><circle cx="442.58" cy="389.85" r="2.3" fill="#4472C4"/><circle cx="457.55" cy="386.74" r="2.3" fill="#4472C4"/><circle cx="472.52" cy="383.98" r="2.3" fill="#4472C4"/><circle cx="487.49" cy="381.21" r="2.3" fill="#4472C4"/><circle cx="502.46" cy="377.76" r="2.3" fill="#4472C4"/><circle cx="517.43" cy="373.61" r="2.3" fill="#4472C4"/><circle cx="532.40" cy="368.08" r="2.3" fill="#4472C4"/><circle cx="547.37" cy="359.44" r="2.3" fill="#4472C4"/><circle cx="562.34" cy="352.53" r="2.3" fill="#4472C4"/><circle cx="577.31" cy="367.04" r="2.3" fill="#4472C4"/><circle cx="592.28" cy="394.00" r="2.3" fill="#4472C4"/><polyline points="382.70,402.64 397.67,393.31 412.64,387.09 427.61,382.59 442.58,378.79 457.55,375.68 472.52,372.57 487.49,369.46 502.46,366.01 517.43,361.86 532.40,356.33 547.37,348.03 562.34,340.78 577.31,357.02 592.28,384.32" fill="none" stroke="#ED7D31" stroke-width="2.0" stroke-linejoin="round" stroke-linecap="round"/><circle cx="382.70" cy="402.64" r="2.3" fill="#ED7D31"/><circle cx="397.67" cy="393.31" r="2.3" fill="#ED7D31"/><circle cx="412.64" cy="387.09" r="2.3" fill="#ED7D31"/><circle cx="427.61" cy="382.59" r="2.3" fill="#ED7D31"/><circle cx="442.58" cy="378.79" r="2.3" fill="#ED7D31"/><circle cx="457.55" cy="375.68" r="2.3" fill="#ED7D31"/><circle cx="472.52" cy="372.57" r="2.3" fill="#ED7D31"/><circle cx="487.49" cy="369.46" r="2.3" fill="#ED7D31"/><circle cx="502.46" cy="366.01" r="2.3" fill="#ED7D31"/><circle cx="517.43" cy="361.86" r="2.3" fill="#ED7D31"/><circle cx="532.40" cy="356.33" r="2.3" fill="#ED7D31"/><circle cx="547.37" cy="348.03" r="2.3" fill="#ED7D31"/><circle cx="562.34" cy="340.78" r="2.3" fill="#ED7D31"/><circle cx="577.31" cy="357.02" r="2.3" fill="#ED7D31"/><circle cx="592.28" cy="384.32" r="2.3" fill="#ED7D31"/><g transform="translate(384.00,426.40) scale(1,1.0) rotate(-45)"><text x="0" y="0" font-size="6.69" fill="#595959" text-anchor="end" textLength="19.76" lengthAdjust="spacingAndGlyphs">Story15</text></g><g transform="translate(398.97,426.40) scale(1,1.0) rotate(-45)"><text x="0" y="0" font-size="6.69" fill="#595959" text-anchor="end" textLength="19.76" lengthAdjust="spacingAndGlyphs">Story14</text></g><g transform="translate(413.94,426.40) scale(1,1.0) rotate(-45)"><text x="0" y="0" font-size="6.69" fill="#595959" text-anchor="end" textLength="19.76" lengthAdjust="spacingAndGlyphs">Story13</text></g><g transform="translate(428.91,426.40) scale(1,1.0) rotate(-45)"><text x="0" y="0" font-size="6.69" fill="#595959" text-anchor="end" textLength="19.76" lengthAdjust="spacingAndGlyphs">Story12</text></g><g transform="translate(443.88,426.40) scale(1,1.0) rotate(-45)"><text x="0" y="0" font-size="6.69" fill="#595959" text-anchor="end" textLength="19.76" lengthAdjust="spacingAndGlyphs">Story11</text></g><g transform="translate(458.85,426.40) scale(1,1.0) rotate(-45)"><text x="0" y="0" font-size="6.69" fill="#595959" text-anchor="end" textLength="19.76" lengthAdjust="spacingAndGlyphs">Story10</text></g><g transform="translate(473.82,426.40) scale(1,1.0) rotate(-45)"><text x="0" y="0" font-size="6.69" fill="#595959" text-anchor="end" textLength="16.57" lengthAdjust="spacingAndGlyphs">Story9</text></g><g transform="translate(488.79,426.40) scale(1,1.0) rotate(-45)"><text x="0" y="0" font-size="6.69" fill="#595959" text-anchor="end" textLength="16.57" lengthAdjust="spacingAndGlyphs">Story8</text></g><g transform="translate(503.76,426.40) scale(1,1.0) rotate(-45)"><text x="0" y="0" font-size="6.69" fill="#595959" text-anchor="end" textLength="16.57" lengthAdjust="spacingAndGlyphs">Story7</text></g><g transform="translate(518.73,426.40) scale(1,1.0) rotate(-45)"><text x="0" y="0" font-size="6.69" fill="#595959" text-anchor="end" textLength="16.57" lengthAdjust="spacingAndGlyphs">Story6</text></g><g transform="translate(533.70,426.40) scale(1,1.0) rotate(-45)"><text x="0" y="0" font-size="6.69" fill="#595959" text-anchor="end" textLength="16.57" lengthAdjust="spacingAndGlyphs">Story5</text></g><g transform="translate(548.67,426.40) scale(1,1.0) rotate(-45)"><text x="0" y="0" font-size="6.69" fill="#595959" text-anchor="end" textLength="16.57" lengthAdjust="spacingAndGlyphs">Story4</text></g><g transform="translate(563.64,426.40) scale(1,1.0) rotate(-45)"><text x="0" y="0" font-size="6.69" fill="#595959" text-anchor="end" textLength="16.57" lengthAdjust="spacingAndGlyphs">Story3</text></g><g transform="translate(578.61,426.40) scale(1,1.0) rotate(-45)"><text x="0" y="0" font-size="6.69" fill="#595959" text-anchor="end" textLength="16.57" lengthAdjust="spacingAndGlyphs">Story2</text></g><g transform="translate(593.58,426.40) scale(1,1.0) rotate(-45)"><text x="0" y="0" font-size="6.69" fill="#595959" text-anchor="end" textLength="16.57" lengthAdjust="spacingAndGlyphs">Story1</text></g><line x1="407" y1="453.8" x2="422.6" y2="453.8" stroke="#4472C4" stroke-width="2.0"/><circle cx="414.80" cy="453.8" r="2.3" fill="#4472C4"/><text x="423.80" y="456.30" font-size="7.27" fill="#595959" text-anchor="start" textLength="44.40" lengthAdjust="spacingAndGlyphs" >Stiffness Y WSW</text><line x1="477.7" y1="453.8" x2="493.3" y2="453.8" stroke="#ED7D31" stroke-width="2.0"/><circle cx="485.50" cy="453.8" r="2.3" fill="#ED7D31"/><text x="494.80" y="456.30" font-size="7.27" fill="#595959" text-anchor="start" textLength="48.70" lengthAdjust="spacingAndGlyphs" >Stiffness Y WOSW</text><rect x="331.10" y="588.00" width="268.00" height="160.10" fill="#fff" stroke="#D9D9D9" stroke-width="1"/><text x="448.90" y="603.70" font-size="9.59" fill="#595959" text-anchor="start" textLength="31.40" lengthAdjust="spacingAndGlyphs" class="tt">Shear X</text><line x1="355.1" y1="701.30" x2="590.6" y2="701.30" stroke="#D9D9D9" stroke-width="0.9"/><text x="349.80" y="703.55" font-size="6.54" fill="#595959" text-anchor="end" textLength="3.37" lengthAdjust="spacingAndGlyphs" >0</text><line x1="355.1" y1="690.55" x2="590.6" y2="690.55" stroke="#D9D9D9" stroke-width="0.9"/><text x="349.80" y="692.80" font-size="6.54" fill="#595959" text-anchor="end" textLength="10.11" lengthAdjust="spacingAndGlyphs" >500</text><line x1="355.1" y1="679.80" x2="590.6" y2="679.80" stroke="#D9D9D9" stroke-width="0.9"/><text x="349.80" y="682.05" font-size="6.54" fill="#595959" text-anchor="end" textLength="13.48" lengthAdjust="spacingAndGlyphs" >1000</text><line x1="355.1" y1="669.05" x2="590.6" y2="669.05" stroke="#D9D9D9" stroke-width="0.9"/><text x="349.80" y="671.30" font-size="6.54" fill="#595959" text-anchor="end" textLength="13.48" lengthAdjust="spacingAndGlyphs" >1500</text><line x1="355.1" y1="658.30" x2="590.6" y2="658.30" stroke="#D9D9D9" stroke-width="0.9"/><text x="349.80" y="660.55" font-size="6.54" fill="#595959" text-anchor="end" textLength="13.48" lengthAdjust="spacingAndGlyphs" >2000</text><line x1="355.1" y1="647.55" x2="590.6" y2="647.55" stroke="#D9D9D9" stroke-width="0.9"/><text x="349.80" y="649.80" font-size="6.54" fill="#595959" text-anchor="end" textLength="13.48" lengthAdjust="spacingAndGlyphs" >2500</text><line x1="355.1" y1="636.80" x2="590.6" y2="636.80" stroke="#D9D9D9" stroke-width="0.9"/><text x="349.80" y="639.05" font-size="6.54" fill="#595959" text-anchor="end" textLength="13.48" lengthAdjust="spacingAndGlyphs" >3000</text><line x1="355.1" y1="626.05" x2="590.6" y2="626.05" stroke="#D9D9D9" stroke-width="0.9"/><text x="349.80" y="628.30" font-size="6.54" fill="#595959" text-anchor="end" textLength="13.48" lengthAdjust="spacingAndGlyphs" >3500</text><line x1="355.1" y1="615.30" x2="590.6" y2="615.30" stroke="#D9D9D9" stroke-width="0.9"/><text x="349.80" y="617.55" font-size="6.54" fill="#595959" text-anchor="end" textLength="13.48" lengthAdjust="spacingAndGlyphs" >4000</text><polyline points="363.20,692.40 378.89,682.47 394.58,674.64 410.27,667.50 425.96,661.80 441.65,656.71 457.34,652.90 473.03,649.59 488.72,645.81 504.41,642.30 520.10,638.80 535.79,635.51 551.48,632.01 567.17,628.41 582.86,627.02" fill="none" stroke="#4472C4" stroke-width="2.0" stroke-linejoin="round" stroke-linecap="round"/><circle cx="363.20" cy="692.40" r="2.3" fill="#4472C4"/><circle cx="378.89" cy="682.47" r="2.3" fill="#4472C4"/><circle cx="394.58" cy="674.64" r="2.3" fill="#4472C4"/><circle cx="410.27" cy="667.50" r="2.3" fill="#4472C4"/><circle cx="425.96" cy="661.80" r="2.3" fill="#4472C4"/><circle cx="441.65" cy="656.71" r="2.3" fill="#4472C4"/><circle cx="457.34" cy="652.90" r="2.3" fill="#4472C4"/><circle cx="473.03" cy="649.59" r="2.3" fill="#4472C4"/><circle cx="488.72" cy="645.81" r="2.3" fill="#4472C4"/><circle cx="504.41" cy="642.30" r="2.3" fill="#4472C4"/><circle cx="520.10" cy="638.80" r="2.3" fill="#4472C4"/><circle cx="535.79" cy="635.51" r="2.3" fill="#4472C4"/><circle cx="551.48" cy="632.01" r="2.3" fill="#4472C4"/><circle cx="567.17" cy="628.41" r="2.3" fill="#4472C4"/><circle cx="582.86" cy="627.02" r="2.3" fill="#4472C4"/><polyline points="363.20,696.89 378.89,691.67 394.58,687.60 410.27,684.59 425.96,681.80 441.65,679.80 457.34,677.65 473.03,675.91 488.72,674.49 504.41,672.60 520.10,671.01 535.79,669.61 551.48,668.19 567.17,666.51 582.86,666.10" fill="none" stroke="#ED7D31" stroke-width="2.0" stroke-linejoin="round" stroke-linecap="round"/><circle cx="363.20" cy="696.89" r="2.3" fill="#ED7D31"/><circle cx="378.89" cy="691.67" r="2.3" fill="#ED7D31"/><circle cx="394.58" cy="687.60" r="2.3" fill="#ED7D31"/><circle cx="410.27" cy="684.59" r="2.3" fill="#ED7D31"/><circle cx="425.96" cy="681.80" r="2.3" fill="#ED7D31"/><circle cx="441.65" cy="679.80" r="2.3" fill="#ED7D31"/><circle cx="457.34" cy="677.65" r="2.3" fill="#ED7D31"/><circle cx="473.03" cy="675.91" r="2.3" fill="#ED7D31"/><circle cx="488.72" cy="674.49" r="2.3" fill="#ED7D31"/><circle cx="504.41" cy="672.60" r="2.3" fill="#ED7D31"/><circle cx="520.10" cy="671.01" r="2.3" fill="#ED7D31"/><circle cx="535.79" cy="669.61" r="2.3" fill="#ED7D31"/><circle cx="551.48" cy="668.19" r="2.3" fill="#ED7D31"/><circle cx="567.17" cy="666.51" r="2.3" fill="#ED7D31"/><circle cx="582.86" cy="666.10" r="2.3" fill="#ED7D31"/><g transform="translate(362.90,712.60) scale(1,1.0) rotate(-45)"><text x="0" y="0" font-size="6.69" fill="#595959" text-anchor="end" textLength="18.82" lengthAdjust="spacingAndGlyphs">Story15</text></g><g transform="translate(378.59,712.60) scale(1,1.0) rotate(-45)"><text x="0" y="0" font-size="6.69" fill="#595959" text-anchor="end" textLength="18.82" lengthAdjust="spacingAndGlyphs">Story14</text></g><g transform="translate(394.28,712.60) scale(1,1.0) rotate(-45)"><text x="0" y="0" font-size="6.69" fill="#595959" text-anchor="end" textLength="18.82" lengthAdjust="spacingAndGlyphs">Story13</text></g><g transform="translate(409.97,712.60) scale(1,1.0) rotate(-45)"><text x="0" y="0" font-size="6.69" fill="#595959" text-anchor="end" textLength="18.82" lengthAdjust="spacingAndGlyphs">Story12</text></g><g transform="translate(425.66,712.60) scale(1,1.0) rotate(-45)"><text x="0" y="0" font-size="6.69" fill="#595959" text-anchor="end" textLength="18.82" lengthAdjust="spacingAndGlyphs">Story11</text></g><g transform="translate(441.35,712.60) scale(1,1.0) rotate(-45)"><text x="0" y="0" font-size="6.69" fill="#595959" text-anchor="end" textLength="18.82" lengthAdjust="spacingAndGlyphs">Story10</text></g><g transform="translate(457.04,712.60) scale(1,1.0) rotate(-45)"><text x="0" y="0" font-size="6.69" fill="#595959" text-anchor="end" textLength="15.78" lengthAdjust="spacingAndGlyphs">Story9</text></g><g transform="translate(472.73,712.60) scale(1,1.0) rotate(-45)"><text x="0" y="0" font-size="6.69" fill="#595959" text-anchor="end" textLength="15.78" lengthAdjust="spacingAndGlyphs">Story8</text></g><g transform="translate(488.42,712.60) scale(1,1.0) rotate(-45)"><text x="0" y="0" font-size="6.69" fill="#595959" text-anchor="end" textLength="15.78" lengthAdjust="spacingAndGlyphs">Story7</text></g><g transform="translate(504.11,712.60) scale(1,1.0) rotate(-45)"><text x="0" y="0" font-size="6.69" fill="#595959" text-anchor="end" textLength="15.78" lengthAdjust="spacingAndGlyphs">Story6</text></g><g transform="translate(519.80,712.60) scale(1,1.0) rotate(-45)"><text x="0" y="0" font-size="6.69" fill="#595959" text-anchor="end" textLength="15.78" lengthAdjust="spacingAndGlyphs">Story5</text></g><g transform="translate(535.49,712.60) scale(1,1.0) rotate(-45)"><text x="0" y="0" font-size="6.69" fill="#595959" text-anchor="end" textLength="15.78" lengthAdjust="spacingAndGlyphs">Story4</text></g><g transform="translate(551.18,712.60) scale(1,1.0) rotate(-45)"><text x="0" y="0" font-size="6.69" fill="#595959" text-anchor="end" textLength="15.78" lengthAdjust="spacingAndGlyphs">Story3</text></g><g transform="translate(566.87,712.60) scale(1,1.0) rotate(-45)"><text x="0" y="0" font-size="6.69" fill="#595959" text-anchor="end" textLength="15.78" lengthAdjust="spacingAndGlyphs">Story2</text></g><g transform="translate(582.56,712.60) scale(1,1.0) rotate(-45)"><text x="0" y="0" font-size="6.69" fill="#595959" text-anchor="end" textLength="15.78" lengthAdjust="spacingAndGlyphs">Story1</text></g><line x1="406" y1="737.6" x2="421" y2="737.6" stroke="#4472C4" stroke-width="2.0"/><circle cx="413.50" cy="737.6" r="2.3" fill="#4472C4"/><text x="422.20" y="740.10" font-size="7.27" fill="#595959" text-anchor="start" textLength="36.50" lengthAdjust="spacingAndGlyphs" >Shear X WSW</text><line x1="468.1" y1="737.6" x2="483.6" y2="737.6" stroke="#ED7D31" stroke-width="2.0"/><circle cx="475.85" cy="737.6" r="2.3" fill="#ED7D31"/><text x="484.50" y="740.10" font-size="7.27" fill="#595959" text-anchor="start" textLength="41.40" lengthAdjust="spacingAndGlyphs" >Shear X WOSW</text>
<path d="M54.50,69.50 Q55.83,52.90 51.30,46.50 Q48.69,53.90 54.50,69.50Z" fill="#2f9fb0"/><path d="M55.50,69.50 Q63.09,56.71 62.00,49.80 Q57.01,54.71 55.50,69.50Z" fill="#2f9fb0"/><path d="M56.50,70.00 Q66.51,65.13 68.20,60.00 Q62.87,60.87 56.50,70.00Z" fill="#2f9fb0"/><path d="M58.00,71.20 Q65.58,72.54 69.50,70.50 Q65.37,68.95 58.00,71.20Z" fill="#2f9fb0"/><path d="M53.50,69.00 Q47.98,54.78 41.80,51.20 Q42.64,58.30 53.50,69.00Z" fill="#a8c93a"/><path d="M53.50,70.00 Q43.61,61.58 37.50,61.50 Q40.99,66.52 53.50,70.00Z" fill="#a8c93a"/><path d="M54.00,71.00 Q43.77,67.39 37.80,68.80 Q43.17,71.75 54.00,71.00Z" fill="#a8c93a"/><text x="41.5" y="80.8" class="lg" font-size="10.8" font-weight="bold" textLength="25.5" lengthAdjust="spacingAndGlyphs"><tspan fill="#8cc152">IR</tspan><tspan fill="#5a8fd6">JET</tspan></text>
</svg>
<div class="t b" style="left:77.20px;top:52.33px;font-size:12.98px;line-height:12.98px;font-weight:bold;color:#111;transform:scaleX(1.0340);-webkit-text-stroke:0.35px currentColor;">International Research Journal of Engineering and Technology (IRJET)</div>
<div class="t b" style="left:77.60px;top:70.66px;font-size:11.15px;line-height:11.15px;font-weight:bold;color:#7a7a7a;transform:scaleX(1.0278);">Volume: 09 Issue: 08 | Aug 2022</div>
<div class="t b" style="left:273.90px;top:70.66px;font-size:11.15px;line-height:11.15px;font-weight:bold;color:#111;transform:scaleX(1.0513);">www.irjet.net</div>
<div class="t b" style="left:508.30px;top:54.01px;font-size:11.45px;line-height:11.45px;font-weight:bold;color:#111;transform:scaleX(0.9970);">e-ISSN: 2395-0056</div>
<div class="t b" style="left:507.50px;top:70.01px;font-size:11.45px;line-height:11.45px;font-weight:bold;color:#111;transform:scaleX(0.9863);">p-ISSN: 2395-0072</div>
<div class="t b" style="left:78.20px;top:267.29px;font-size:11.00px;line-height:11.00px;font-weight:bold;color:#111;transform:scaleX(0.9732);">Fig-9: Storey Drift For EQ In Y Direction</div>
<div class="t b" style="left:72.90px;top:454.19px;font-size:11.00px;line-height:11.00px;font-weight:bold;color:#111;transform:scaleX(1.0049);">Fig-10: Response Spectrum In X Direction</div>
<div class="t b" style="left:83.00px;top:650.09px;font-size:11.00px;line-height:11.00px;font-weight:bold;color:#111;transform:scaleX(1.0087);">Fig-11:  Response Spectrum In Y Direction</div>
<div class="t b" style="left:374.90px;top:281.49px;font-size:11.00px;line-height:11.00px;font-weight:bold;color:#111;transform:scaleX(1.0041);">Fig-12:  Storey Stiffness in X direction</div>
<div class="t b" style="left:374.40px;top:478.59px;font-size:11.00px;line-height:11.00px;font-weight:bold;color:#111;transform:scaleX(1.0045);">Fig-13:  Storey Stiffness in Y Direction</div>
<div class="t b" style="left:388.60px;top:760.99px;font-size:11.00px;line-height:11.00px;font-weight:bold;color:#111;transform:scaleX(0.9972);">Fig-14:  Storey Shear in X Direction</div>
<div class="t b" style="left:38.90px;top:672.30px;font-size:13.13px;line-height:13.13px;font-weight:bold;color:#111;transform:scaleX(1.0112);">7.4 Stiffness:</div>
<div class="t b" style="left:331.60px;top:502.10px;font-size:13.13px;line-height:13.13px;font-weight:bold;color:#111;transform:scaleX(0.9956);">7.5 Storey Shear:</div>
<div class="t r" style="left:38.90px;top:698.84px;font-size:11.30px;line-height:11.30px;color:#2e2e2e;word-spacing:7.663px;transform:scaleX(1.0)">The lateral force causing unit translational lateral</div>
<div class="t r" style="left:38.90px;top:711.14px;font-size:11.30px;line-height:11.30px;color:#2e2e2e;word-spacing:-0.871px;transform:scaleX(1.0)">deformation in that storey is estimated as the storey stiffness,</div>
<div class="t r" style="left:38.90px;top:723.84px;font-size:11.30px;line-height:11.30px;color:#2e2e2e;word-spacing:3.465px;transform:scaleX(1.0)">with the bottom of the storey prevented from moving</div>
<div class="t r" style="left:38.90px;top:736.24px;font-size:11.30px;line-height:11.30px;color:#2e2e2e;word-spacing:0.059px;transform:scaleX(1.0)">laterally, i.e., only translational motion of the bottom of the</div>
<div class="t r" style="left:38.90px;top:748.74px;font-size:11.30px;line-height:11.30px;color:#2e2e2e;word-spacing:-1.064px;transform:scaleX(1.0)">storey is constrained while it is free to rotate. AS shown in the</div>
<div class="t r" style="left:38.90px;top:761.54px;font-size:11.30px;line-height:11.30px;color:#2e2e2e;word-spacing:0.806px;transform:scaleX(1.0)">graphs Storey Stiffness between the building having shear</div>
<div class="t r" style="left:38.90px;top:774.04px;font-size:11.30px;line-height:11.30px;color:#2e2e2e;word-spacing:0.681px;transform:scaleX(1.0)">wall (WSW) and without shear wall (WOSW) in X and Y</div>
<div class="t r" style="left:38.90px;top:786.34px;font-size:11.30px;line-height:11.30px;color:#2e2e2e;word-spacing:0.000px;transform:scaleX(1.0)">Direction. Graphs shows the variation between them.</div>
<div class="t r" style="left:331.30px;top:527.84px;font-size:11.30px;line-height:11.30px;color:#2e2e2e;word-spacing:-0.996px;transform:scaleX(1.0)">As the graphs shows below that the storey Shear is maximum</div>
<div class="t r" style="left:331.30px;top:539.94px;font-size:11.30px;line-height:11.30px;color:#2e2e2e;word-spacing:0.008px;transform:scaleX(1.0)">at the first storey and minimum at the top of the building in</div>
<div class="t r" style="left:331.30px;top:552.34px;font-size:11.30px;line-height:11.30px;color:#2e2e2e;word-spacing:-0.931px;transform:scaleX(1.0)">both building having having shear wall and without the shear</div>
<div class="t r" style="left:331.30px;top:564.64px;font-size:11.30px;line-height:11.30px;color:#2e2e2e;word-spacing:0.000px;transform:scaleX(1.0)">wall which is permissible under IS code.</div>
<div class="t b" style="left:39.10px;top:836.94px;font-size:12.37px;line-height:12.37px;font-weight:bold;color:#555555;transform:scaleX(0.9323);-webkit-text-stroke:0px currentColor;">© 2022, IRJET</div>
<div class="t b" style="left:154.50px;top:836.94px;font-size:12.37px;line-height:12.37px;font-weight:bold;color:#555555;transform:scaleX(0.9929);-webkit-text-stroke:0px currentColor;">Impact Factor value: 7.529</div>
<div class="t b" style="left:336.70px;top:836.94px;font-size:12.37px;line-height:12.37px;font-weight:bold;color:#555555;transform:scaleX(0.9824);-webkit-text-stroke:0px currentColor;">ISO 9001:2008 Certified Journal</div>
<div class="t b" style="left:541.60px;top:836.94px;font-size:12.37px;line-height:12.37px;font-weight:bold;color:#555555;transform:scaleX(0.9662);-webkit-text-stroke:0px currentColor;">Page 38</div>
<div style="position:absolute;left:134.00px;top:838.5px;width:1.4px;height:11px;background:#555555"></div>
<div style="position:absolute;left:315.80px;top:838.5px;width:1.4px;height:11px;background:#555555"></div>
<div style="position:absolute;left:525.50px;top:838.5px;width:1.4px;height:11px;background:#555555"></div>
</body></html>
